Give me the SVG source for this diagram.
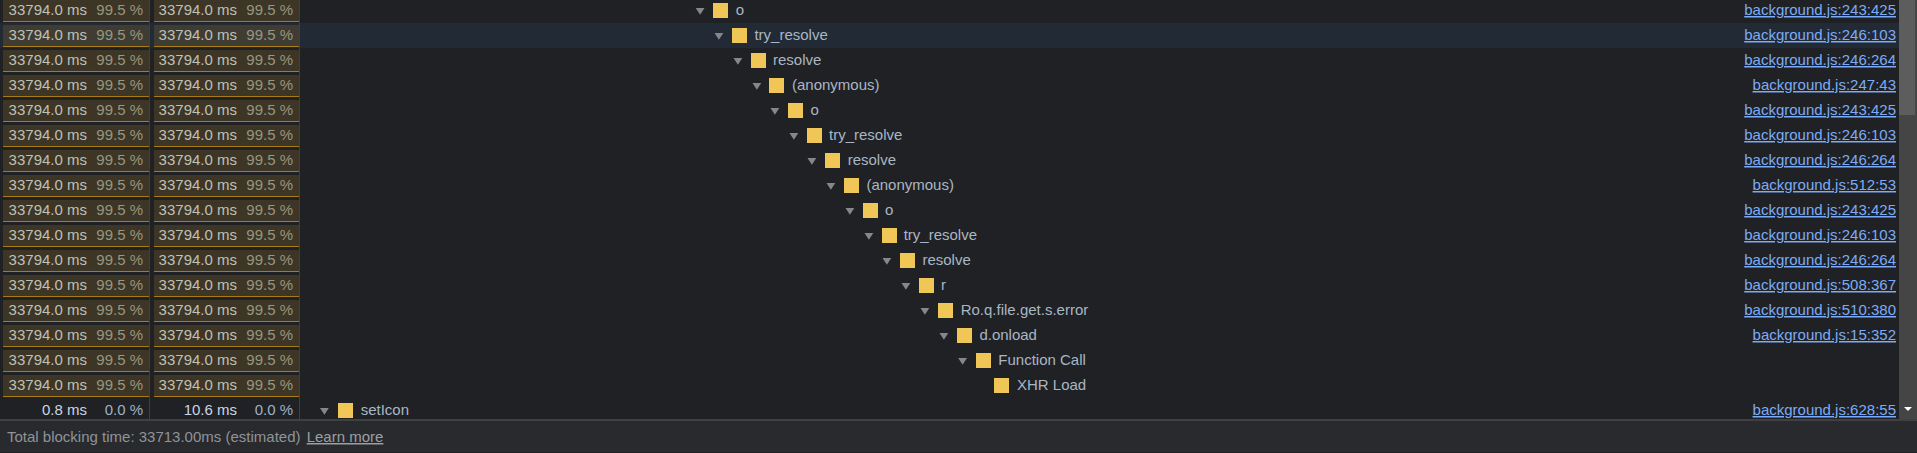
<svg xmlns="http://www.w3.org/2000/svg" width="1917" height="453" viewBox="0 0 1917 453">
<style>
text{font-family:"Liberation Sans",Arial,sans-serif;font-size:15px}
.c{fill:#3d3526}.h{fill:#3f3d33}.l{fill:#a87c14}
.t{fill:#bfc0b6;text-anchor:end}.p{fill:#98977f;text-anchor:end}
.t2{fill:#c9d6e4;text-anchor:end}.p2{fill:#9fb2c6;text-anchor:end}
.n{fill:#a9b6c4}.s{fill:#f0c657}.a{fill:#84878b}
.u{fill:#7cacf8;text-anchor:end;text-decoration:underline}
</style>
<defs>
<g id="cells"><rect class="c" x="3" y="0" width="146" height="21"/><rect class="l" x="3" y="21" width="146" height="1"/><rect class="c" x="154" y="0" width="145" height="21"/><rect class="l" x="154" y="21" width="145" height="1"/></g>
<path id="tri" class="a" d="M0 0h8.8l-4.4 6.8z"/>
</defs>
<rect width="1917" height="453" fill="#202124"/>
<rect x="0" y="23" width="1899" height="25" fill="#222a36"/>
<rect x="149" y="0" width="1" height="419" fill="#3c4043"/>
<rect x="299" y="0" width="1" height="419" fill="#3c4043"/>
<g id="row0"><use href="#cells" y="0"/><text class="t" x="87" y="15">33794.0 ms</text><text class="p" x="143" y="15">99.5 %</text><text class="t" x="237" y="15">33794.0 ms</text><text class="p" x="293" y="15">99.5 %</text><use href="#tri" x="695.7" y="8"/><rect class="s" x="713" y="3" width="15" height="15"/><text class="n" x="735.7" y="15">o</text><text class="u" x="1896" y="15">background.js:243:425</text></g>
<g id="row1"><rect class="h" x="3" y="25" width="146" height="21"/><rect class="l" x="3" y="46" width="146" height="1"/><rect class="h" x="154" y="25" width="145" height="21"/><rect class="l" x="154" y="46" width="145" height="1"/><text class="t" x="87" y="40">33794.0 ms</text><text class="p" x="143" y="40">99.5 %</text><text class="t" x="237" y="40">33794.0 ms</text><text class="p" x="293" y="40">99.5 %</text><use href="#tri" x="714.5" y="33"/><rect class="s" x="732" y="28" width="15" height="15"/><text class="n" x="754.4" y="40">try_resolve</text><text class="u" x="1896" y="40">background.js:246:103</text></g>
<g id="row2"><use href="#cells" y="50"/><text class="t" x="87" y="65">33794.0 ms</text><text class="p" x="143" y="65">99.5 %</text><text class="t" x="237" y="65">33794.0 ms</text><text class="p" x="293" y="65">99.5 %</text><use href="#tri" x="733.5" y="58"/><rect class="s" x="751" y="53" width="15" height="15"/><text class="n" x="773" y="65">resolve</text><text class="u" x="1896" y="65">background.js:246:264</text></g>
<g id="row3"><use href="#cells" y="75"/><text class="t" x="87" y="90">33794.0 ms</text><text class="p" x="143" y="90">99.5 %</text><text class="t" x="237" y="90">33794.0 ms</text><text class="p" x="293" y="90">99.5 %</text><use href="#tri" x="752.5" y="83"/><rect class="s" x="769" y="78" width="15" height="15"/><text class="n" x="792" y="90">(anonymous)</text><text class="u" x="1896" y="90">background.js:247:43</text></g>
<g id="row4"><use href="#cells" y="100"/><text class="t" x="87" y="115">33794.0 ms</text><text class="p" x="143" y="115">99.5 %</text><text class="t" x="237" y="115">33794.0 ms</text><text class="p" x="293" y="115">99.5 %</text><use href="#tri" x="770.5" y="108"/><rect class="s" x="788" y="103" width="15" height="15"/><text class="n" x="810.4" y="115">o</text><text class="u" x="1896" y="115">background.js:243:425</text></g>
<g id="row5"><use href="#cells" y="125"/><text class="t" x="87" y="140">33794.0 ms</text><text class="p" x="143" y="140">99.5 %</text><text class="t" x="237" y="140">33794.0 ms</text><text class="p" x="293" y="140">99.5 %</text><use href="#tri" x="789.5" y="133"/><rect class="s" x="807" y="128" width="15" height="15"/><text class="n" x="829" y="140">try_resolve</text><text class="u" x="1896" y="140">background.js:246:103</text></g>
<g id="row6"><use href="#cells" y="150"/><text class="t" x="87" y="165">33794.0 ms</text><text class="p" x="143" y="165">99.5 %</text><text class="t" x="237" y="165">33794.0 ms</text><text class="p" x="293" y="165">99.5 %</text><use href="#tri" x="807.5" y="158"/><rect class="s" x="825" y="153" width="15" height="15"/><text class="n" x="847.7" y="165">resolve</text><text class="u" x="1896" y="165">background.js:246:264</text></g>
<g id="row7"><use href="#cells" y="175"/><text class="t" x="87" y="190">33794.0 ms</text><text class="p" x="143" y="190">99.5 %</text><text class="t" x="237" y="190">33794.0 ms</text><text class="p" x="293" y="190">99.5 %</text><use href="#tri" x="826.5" y="183"/><rect class="s" x="844" y="178" width="15" height="15"/><text class="n" x="866.4" y="190">(anonymous)</text><text class="u" x="1896" y="190">background.js:512:53</text></g>
<g id="row8"><use href="#cells" y="200"/><text class="t" x="87" y="215">33794.0 ms</text><text class="p" x="143" y="215">99.5 %</text><text class="t" x="237" y="215">33794.0 ms</text><text class="p" x="293" y="215">99.5 %</text><use href="#tri" x="845.5" y="208"/><rect class="s" x="863" y="203" width="15" height="15"/><text class="n" x="885" y="215">o</text><text class="u" x="1896" y="215">background.js:243:425</text></g>
<g id="row9"><use href="#cells" y="225"/><text class="t" x="87" y="240">33794.0 ms</text><text class="p" x="143" y="240">99.5 %</text><text class="t" x="237" y="240">33794.0 ms</text><text class="p" x="293" y="240">99.5 %</text><use href="#tri" x="864.5" y="233"/><rect class="s" x="882" y="228" width="15" height="15"/><text class="n" x="903.7" y="240">try_resolve</text><text class="u" x="1896" y="240">background.js:246:103</text></g>
<g id="row10"><use href="#cells" y="250"/><text class="t" x="87" y="265">33794.0 ms</text><text class="p" x="143" y="265">99.5 %</text><text class="t" x="237" y="265">33794.0 ms</text><text class="p" x="293" y="265">99.5 %</text><use href="#tri" x="882.5" y="258"/><rect class="s" x="900" y="253" width="15" height="15"/><text class="n" x="922.4" y="265">resolve</text><text class="u" x="1896" y="265">background.js:246:264</text></g>
<g id="row11"><use href="#cells" y="275"/><text class="t" x="87" y="290">33794.0 ms</text><text class="p" x="143" y="290">99.5 %</text><text class="t" x="237" y="290">33794.0 ms</text><text class="p" x="293" y="290">99.5 %</text><use href="#tri" x="901.5" y="283"/><rect class="s" x="919" y="278" width="15" height="15"/><text class="n" x="941" y="290">r</text><text class="u" x="1896" y="290">background.js:508:367</text></g>
<g id="row12"><use href="#cells" y="300"/><text class="t" x="87" y="315">33794.0 ms</text><text class="p" x="143" y="315">99.5 %</text><text class="t" x="237" y="315">33794.0 ms</text><text class="p" x="293" y="315">99.5 %</text><use href="#tri" x="920.5" y="308"/><rect class="s" x="938" y="303" width="15" height="15"/><text class="n" x="960.7" y="315">Ro.q.file.get.s.error</text><text class="u" x="1896" y="315">background.js:510:380</text></g>
<g id="row13"><use href="#cells" y="325"/><text class="t" x="87" y="340">33794.0 ms</text><text class="p" x="143" y="340">99.5 %</text><text class="t" x="237" y="340">33794.0 ms</text><text class="p" x="293" y="340">99.5 %</text><use href="#tri" x="939.5" y="333"/><rect class="s" x="957" y="328" width="15" height="15"/><text class="n" x="979.4" y="340">d.onload</text><text class="u" x="1896" y="340">background.js:15:352</text></g>
<g id="row14"><use href="#cells" y="350"/><text class="t" x="87" y="365">33794.0 ms</text><text class="p" x="143" y="365">99.5 %</text><text class="t" x="237" y="365">33794.0 ms</text><text class="p" x="293" y="365">99.5 %</text><use href="#tri" x="958.2" y="358"/><rect class="s" x="976" y="353" width="15" height="15"/><text class="n" x="998.3" y="365">Function Call</text></g>
<g id="row15"><use href="#cells" y="375"/><text class="t" x="87" y="390">33794.0 ms</text><text class="p" x="143" y="390">99.5 %</text><text class="t" x="237" y="390">33794.0 ms</text><text class="p" x="293" y="390">99.5 %</text><rect class="s" x="994" y="378" width="15" height="15"/><text class="n" x="1017" y="390">XHR Load</text></g>
<g id="row16"><text class="t2" x="87" y="415">0.8 ms</text><text class="p2" x="143" y="415">0.0 %</text><text class="t2" x="237" y="415">10.6 ms</text><text class="p2" x="293" y="415">0.0 %</text><use href="#tri" x="320" y="408"/><rect class="s" x="338" y="403" width="15" height="15"/><text class="n" x="360.7" y="415">setIcon</text><text class="u" x="1896" y="415">background.js:628:55</text></g>
<g id="scrollbar"><rect x="1899" y="0" width="18" height="419" fill="#454545"/><rect x="1899" y="0" width="16" height="115" fill="#5d5d5d"/><path d="M1904 407h8l-4 4z" fill="#fff"/></g>
<g id="footer"><rect x="0" y="419" width="1917" height="33" fill="#292a2d"/><rect x="0" y="419" width="1917" height="2" fill="#3f4043"/><rect x="0" y="452" width="1917" height="1" fill="#202124"/><text x="7" y="442" fill="#8f9499">Total blocking time: 33713.00ms (estimated)</text><text x="306.7" y="442" fill="#9aa0a6" text-decoration="underline">Learn more</text></g>
</svg>
